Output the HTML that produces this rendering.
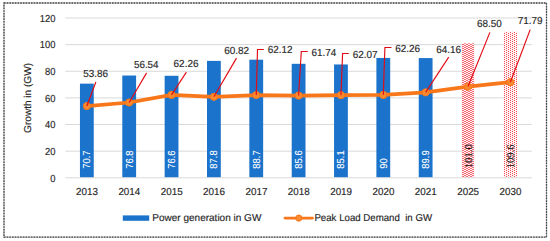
<!DOCTYPE html>
<html><head><meta charset="utf-8"><style>
html,body{margin:0;padding:0;background:#fff;width:550px;height:241px;overflow:hidden;}
svg{display:block;}
text{text-rendering:geometricPrecision;}
</style></head><body>
<svg width="550" height="241" viewBox="0 0 550 241">
<defs>
<pattern id="dots" x="2" y="0" width="4" height="2" patternUnits="userSpaceOnUse">
<rect width="4" height="2" fill="#FFF3F4"/>
<rect x="0" y="0" width="1" height="1" fill="#F24C57"/>
<rect x="2" y="1" width="1" height="1" fill="#F24C57"/>
</pattern>
<pattern id="dots2" x="2" y="0" width="4" height="2" patternUnits="userSpaceOnUse">
<rect width="4" height="2" fill="#FFF2F3"/>
<rect x="0" y="0" width="2" height="1" fill="#F46A74"/>
<rect x="2" y="1" width="2" height="1" fill="#F46A74"/>
</pattern>
</defs>
<rect width="550" height="241" fill="#fff"/>
<line x1="65.3" y1="177.80" x2="531.7" y2="177.80" stroke="#D9D9D9" stroke-width="1"/>
<line x1="65.3" y1="151.17" x2="531.7" y2="151.17" stroke="#D9D9D9" stroke-width="1"/>
<line x1="65.3" y1="124.53" x2="531.7" y2="124.53" stroke="#D9D9D9" stroke-width="1"/>
<line x1="65.3" y1="97.90" x2="531.7" y2="97.90" stroke="#D9D9D9" stroke-width="1"/>
<line x1="65.3" y1="71.26" x2="531.7" y2="71.26" stroke="#D9D9D9" stroke-width="1"/>
<line x1="65.3" y1="44.63" x2="531.7" y2="44.63" stroke="#D9D9D9" stroke-width="1"/>
<line x1="65.3" y1="18.00" x2="531.7" y2="18.00" stroke="#D9D9D9" stroke-width="1"/>
<text transform="translate(50.17,181.57) scale(0.9200,1)" style="font-family:&quot;Liberation Sans&quot;" font-size="10.2" fill="#262626" stroke="#262626" stroke-width="0.15" >0</text>
<text transform="translate(44.96,154.94) scale(0.9200,1)" style="font-family:&quot;Liberation Sans&quot;" font-size="10.2" fill="#262626" stroke="#262626" stroke-width="0.15" >20</text>
<text transform="translate(44.96,128.30) scale(0.9200,1)" style="font-family:&quot;Liberation Sans&quot;" font-size="10.2" fill="#262626" stroke="#262626" stroke-width="0.15" >40</text>
<text transform="translate(44.96,101.67) scale(0.9200,1)" style="font-family:&quot;Liberation Sans&quot;" font-size="10.2" fill="#262626" stroke="#262626" stroke-width="0.15" >60</text>
<text transform="translate(44.96,75.03) scale(0.9200,1)" style="font-family:&quot;Liberation Sans&quot;" font-size="10.2" fill="#262626" stroke="#262626" stroke-width="0.15" >80</text>
<text transform="translate(39.75,48.40) scale(0.9200,1)" style="font-family:&quot;Liberation Sans&quot;" font-size="10.2" fill="#262626" stroke="#262626" stroke-width="0.15" >100</text>
<text transform="translate(39.75,21.77) scale(0.9200,1)" style="font-family:&quot;Liberation Sans&quot;" font-size="10.2" fill="#262626" stroke="#262626" stroke-width="0.15" >120</text>
<text transform="translate(31.30,132.90) rotate(-90) scale(1.0073,1)" style="font-family:&quot;Liberation Sans&quot;" font-size="10.0" fill="#262626" stroke="#262626" stroke-width="0.15" >Growth in (GW)</text>
<rect x="79.95" y="83.65" width="13.8" height="93.55" fill="#1C73CB"/>
<rect x="122.30" y="75.53" width="13.8" height="101.67" fill="#1C73CB"/>
<rect x="164.65" y="75.79" width="13.8" height="101.41" fill="#1C73CB"/>
<rect x="207.00" y="60.88" width="13.8" height="116.32" fill="#1C73CB"/>
<rect x="249.35" y="59.68" width="13.8" height="117.52" fill="#1C73CB"/>
<rect x="291.70" y="63.81" width="13.8" height="113.39" fill="#1C73CB"/>
<rect x="334.05" y="64.47" width="13.8" height="112.73" fill="#1C73CB"/>
<rect x="376.40" y="57.95" width="13.8" height="119.25" fill="#1C73CB"/>
<rect x="418.75" y="58.08" width="13.8" height="119.12" fill="#1C73CB"/>
<rect x="461.85" y="43.30" width="12.3" height="133.90" fill="url(#dots2)" stroke="none"/>
<rect x="503.55" y="31.85" width="13.6" height="145.35" fill="url(#dots)" stroke="none"/>
<text transform="translate(90.35,168.77) rotate(-90) scale(0.9250,1)" style="font-family:&quot;Liberation Sans&quot;" font-size="10.2" fill="#fff" stroke="#fff" stroke-width="0.08" >70.7</text>
<text transform="translate(132.70,168.77) rotate(-90) scale(0.9250,1)" style="font-family:&quot;Liberation Sans&quot;" font-size="10.2" fill="#fff" stroke="#fff" stroke-width="0.08" >76.8</text>
<text transform="translate(175.05,168.77) rotate(-90) scale(0.9250,1)" style="font-family:&quot;Liberation Sans&quot;" font-size="10.2" fill="#fff" stroke="#fff" stroke-width="0.08" >76.6</text>
<text transform="translate(217.40,168.72) rotate(-90) scale(0.9250,1)" style="font-family:&quot;Liberation Sans&quot;" font-size="10.2" fill="#fff" stroke="#fff" stroke-width="0.08" >87.8</text>
<text transform="translate(259.75,168.72) rotate(-90) scale(0.9250,1)" style="font-family:&quot;Liberation Sans&quot;" font-size="10.2" fill="#fff" stroke="#fff" stroke-width="0.08" >88.7</text>
<text transform="translate(302.10,168.72) rotate(-90) scale(0.9250,1)" style="font-family:&quot;Liberation Sans&quot;" font-size="10.2" fill="#fff" stroke="#fff" stroke-width="0.08" >85.6</text>
<text transform="translate(344.45,168.72) rotate(-90) scale(0.9250,1)" style="font-family:&quot;Liberation Sans&quot;" font-size="10.2" fill="#fff" stroke="#fff" stroke-width="0.08" >85.1</text>
<text transform="translate(386.80,168.72) rotate(-90) scale(0.9250,1)" style="font-family:&quot;Liberation Sans&quot;" font-size="10.2" fill="#fff" stroke="#fff" stroke-width="0.08" >90</text>
<text transform="translate(429.15,168.72) rotate(-90) scale(0.9250,1)" style="font-family:&quot;Liberation Sans&quot;" font-size="10.2" fill="#fff" stroke="#fff" stroke-width="0.08" >89.9</text>
<text transform="translate(471.60,168.37) rotate(-90) scale(1.0146,1)" style="font-family:&quot;Liberation Serif&quot;" font-size="10.6" fill="#1a1a1a" stroke="#1a1a1a" stroke-width="0.12" >101.0</text>
<text transform="translate(513.95,168.36) rotate(-90) scale(1.0098,1)" style="font-family:&quot;Liberation Serif&quot;" font-size="10.6" fill="#1a1a1a" stroke="#1a1a1a" stroke-width="0.12" >109.6</text>
<polyline points="86.85,106.07 129.20,102.51 171.55,94.89 213.90,96.81 256.25,95.07 298.60,95.58 340.95,95.14 383.30,94.89 425.65,92.36 468.00,86.58 510.35,82.20" fill="none" stroke="#F8771A" stroke-width="3.7" stroke-linejoin="round" stroke-linecap="round"/>
<circle cx="86.85" cy="106.07" r="3.6" fill="#F98A30" stroke="#F8771A" stroke-width="1"/>
<circle cx="129.20" cy="102.51" r="3.6" fill="#F98A30" stroke="#F8771A" stroke-width="1"/>
<circle cx="171.55" cy="94.89" r="3.6" fill="#F98A30" stroke="#F8771A" stroke-width="1"/>
<circle cx="213.90" cy="96.81" r="3.6" fill="#F98A30" stroke="#F8771A" stroke-width="1"/>
<circle cx="256.25" cy="95.07" r="3.6" fill="#F98A30" stroke="#F8771A" stroke-width="1"/>
<circle cx="298.60" cy="95.58" r="3.6" fill="#F98A30" stroke="#F8771A" stroke-width="1"/>
<circle cx="340.95" cy="95.14" r="3.6" fill="#F98A30" stroke="#F8771A" stroke-width="1"/>
<circle cx="383.30" cy="94.89" r="3.6" fill="#F98A30" stroke="#F8771A" stroke-width="1"/>
<circle cx="425.65" cy="92.36" r="3.6" fill="#F98A30" stroke="#F8771A" stroke-width="1"/>
<circle cx="468.00" cy="86.58" r="3.6" fill="#F98A30" stroke="#F8771A" stroke-width="1"/>
<circle cx="510.35" cy="82.20" r="3.6" fill="#F98A30" stroke="#F8771A" stroke-width="1"/>
<path d="M95.90,82.00 L86.85,106.07" fill="none" stroke="#E20A14" stroke-width="1.15"/>
<path d="M146.60,72.90 L129.20,102.51" fill="none" stroke="#E20A14" stroke-width="1.15"/>
<path d="M186.40,72.10 L171.55,94.89" fill="none" stroke="#E20A14" stroke-width="1.15"/>
<path d="M236.50,58.10 L213.90,96.81" fill="none" stroke="#E20A14" stroke-width="1.15"/>
<path d="M263.80,49.50 L257.50,49.50 L256.25,95.07" fill="none" stroke="#E20A14" stroke-width="1.15"/>
<path d="M307.80,51.50 L301.30,51.50 L298.60,95.58" fill="none" stroke="#E20A14" stroke-width="1.15"/>
<path d="M348.80,53.50 L342.60,53.50 L340.95,95.14" fill="none" stroke="#E20A14" stroke-width="1.15"/>
<path d="M391.40,47.50 L384.90,47.50 L383.30,94.89" fill="none" stroke="#E20A14" stroke-width="1.15"/>
<path d="M448.70,57.10 L425.65,92.36" fill="none" stroke="#E20A14" stroke-width="1.15"/>
<path d="M489.90,32.40 L468.00,86.58" fill="none" stroke="#E20A14" stroke-width="1.15"/>
<path d="M530.20,29.60 L510.35,82.20" fill="none" stroke="#E20A14" stroke-width="1.15"/>
<text transform="translate(83.30,76.75) scale(0.9702,1)" style="font-family:&quot;Liberation Sans&quot;" font-size="10.2" fill="#262626" stroke="#262626" stroke-width="0.15" >53.86</text>
<text transform="translate(133.96,68.30) scale(0.9643,1)" style="font-family:&quot;Liberation Sans&quot;" font-size="10.2" fill="#262626" stroke="#262626" stroke-width="0.15" >56.54</text>
<text transform="translate(173.60,67.00) scale(0.9743,1)" style="font-family:&quot;Liberation Sans&quot;" font-size="10.2" fill="#262626" stroke="#262626" stroke-width="0.15" >62.26</text>
<text transform="translate(224.20,53.85) scale(0.9763,1)" style="font-family:&quot;Liberation Sans&quot;" font-size="10.2" fill="#262626" stroke="#262626" stroke-width="0.15" >60.82</text>
<text transform="translate(267.70,53.20) scale(0.9763,1)" style="font-family:&quot;Liberation Sans&quot;" font-size="10.2" fill="#262626" stroke="#262626" stroke-width="0.15" >62.12</text>
<text transform="translate(311.46,55.70) scale(0.9682,1)" style="font-family:&quot;Liberation Sans&quot;" font-size="10.2" fill="#262626" stroke="#262626" stroke-width="0.15" >61.74</text>
<text transform="translate(352.70,57.55) scale(0.9763,1)" style="font-family:&quot;Liberation Sans&quot;" font-size="10.2" fill="#262626" stroke="#262626" stroke-width="0.15" >62.07</text>
<text transform="translate(395.15,51.75) scale(0.9743,1)" style="font-family:&quot;Liberation Sans&quot;" font-size="10.2" fill="#262626" stroke="#262626" stroke-width="0.15" >62.26</text>
<text transform="translate(436.20,52.60) scale(0.9743,1)" style="font-family:&quot;Liberation Sans&quot;" font-size="10.2" fill="#262626" stroke="#262626" stroke-width="0.15" >64.16</text>
<text transform="translate(477.00,27.35) scale(0.9723,1)" style="font-family:&quot;Liberation Sans&quot;" font-size="10.2" fill="#262626" stroke="#262626" stroke-width="0.15" >68.50</text>
<text transform="translate(517.70,23.85) scale(0.9743,1)" style="font-family:&quot;Liberation Sans&quot;" font-size="10.2" fill="#262626" stroke="#262626" stroke-width="0.15" >71.79</text>
<text transform="translate(76.06,195.00) scale(0.9666,1)" style="font-family:&quot;Liberation Sans&quot;" font-size="10.2" fill="#262626" stroke="#262626" stroke-width="0.15" >2013</text>
<text transform="translate(118.41,195.00) scale(0.9598,1)" style="font-family:&quot;Liberation Sans&quot;" font-size="10.2" fill="#262626" stroke="#262626" stroke-width="0.15" >2014</text>
<text transform="translate(160.76,195.00) scale(0.9643,1)" style="font-family:&quot;Liberation Sans&quot;" font-size="10.2" fill="#262626" stroke="#262626" stroke-width="0.15" >2015</text>
<text transform="translate(203.11,195.00) scale(0.9666,1)" style="font-family:&quot;Liberation Sans&quot;" font-size="10.2" fill="#262626" stroke="#262626" stroke-width="0.15" >2016</text>
<text transform="translate(245.46,195.00) scale(0.9689,1)" style="font-family:&quot;Liberation Sans&quot;" font-size="10.2" fill="#262626" stroke="#262626" stroke-width="0.15" >2017</text>
<text transform="translate(287.81,195.00) scale(0.9643,1)" style="font-family:&quot;Liberation Sans&quot;" font-size="10.2" fill="#262626" stroke="#262626" stroke-width="0.15" >2018</text>
<text transform="translate(330.16,195.00) scale(0.9666,1)" style="font-family:&quot;Liberation Sans&quot;" font-size="10.2" fill="#262626" stroke="#262626" stroke-width="0.15" >2019</text>
<text transform="translate(372.51,195.00) scale(0.9643,1)" style="font-family:&quot;Liberation Sans&quot;" font-size="10.2" fill="#262626" stroke="#262626" stroke-width="0.15" >2020</text>
<text transform="translate(414.86,195.00) scale(0.9689,1)" style="font-family:&quot;Liberation Sans&quot;" font-size="10.2" fill="#262626" stroke="#262626" stroke-width="0.15" >2021</text>
<text transform="translate(457.21,195.00) scale(0.9643,1)" style="font-family:&quot;Liberation Sans&quot;" font-size="10.2" fill="#262626" stroke="#262626" stroke-width="0.15" >2025</text>
<text transform="translate(499.56,195.00) scale(0.9643,1)" style="font-family:&quot;Liberation Sans&quot;" font-size="10.2" fill="#262626" stroke="#262626" stroke-width="0.15" >2030</text>
<rect x="122.8" y="215.4" width="26.4" height="5.4" fill="#1C73CB"/>
<text transform="translate(152.30,221.10) scale(1.0009,1)" style="font-family:&quot;Liberation Sans&quot;" font-size="10.0" fill="#262626" stroke="#262626" stroke-width="0.15" >Power generation in GW</text>
<line x1="285" y1="218.1" x2="312.5" y2="218.1" stroke="#F8771A" stroke-width="2.8" stroke-linecap="round"/>
<circle cx="298.8" cy="218.1" r="3.1" fill="#F98A30" stroke="#F8771A" stroke-width="1"/>
<text transform="translate(314.43,221.10) scale(0.9661,1)" style="font-family:&quot;Liberation Sans&quot;" font-size="10.0" fill="#262626" stroke="#262626" stroke-width="0.15" xml:space="preserve">Peak Load Demand  in GW</text>
<rect x="4" y="3" width="542.5" height="234.1" fill="none" stroke="#B4B4B4" stroke-width="1.1"/>
<rect x="4" y="3" width="542.5" height="234.1" fill="none" stroke="#4A4A4A" stroke-width="1.3" stroke-dasharray="1.6 1.1"/>
</svg>
</body></html>
